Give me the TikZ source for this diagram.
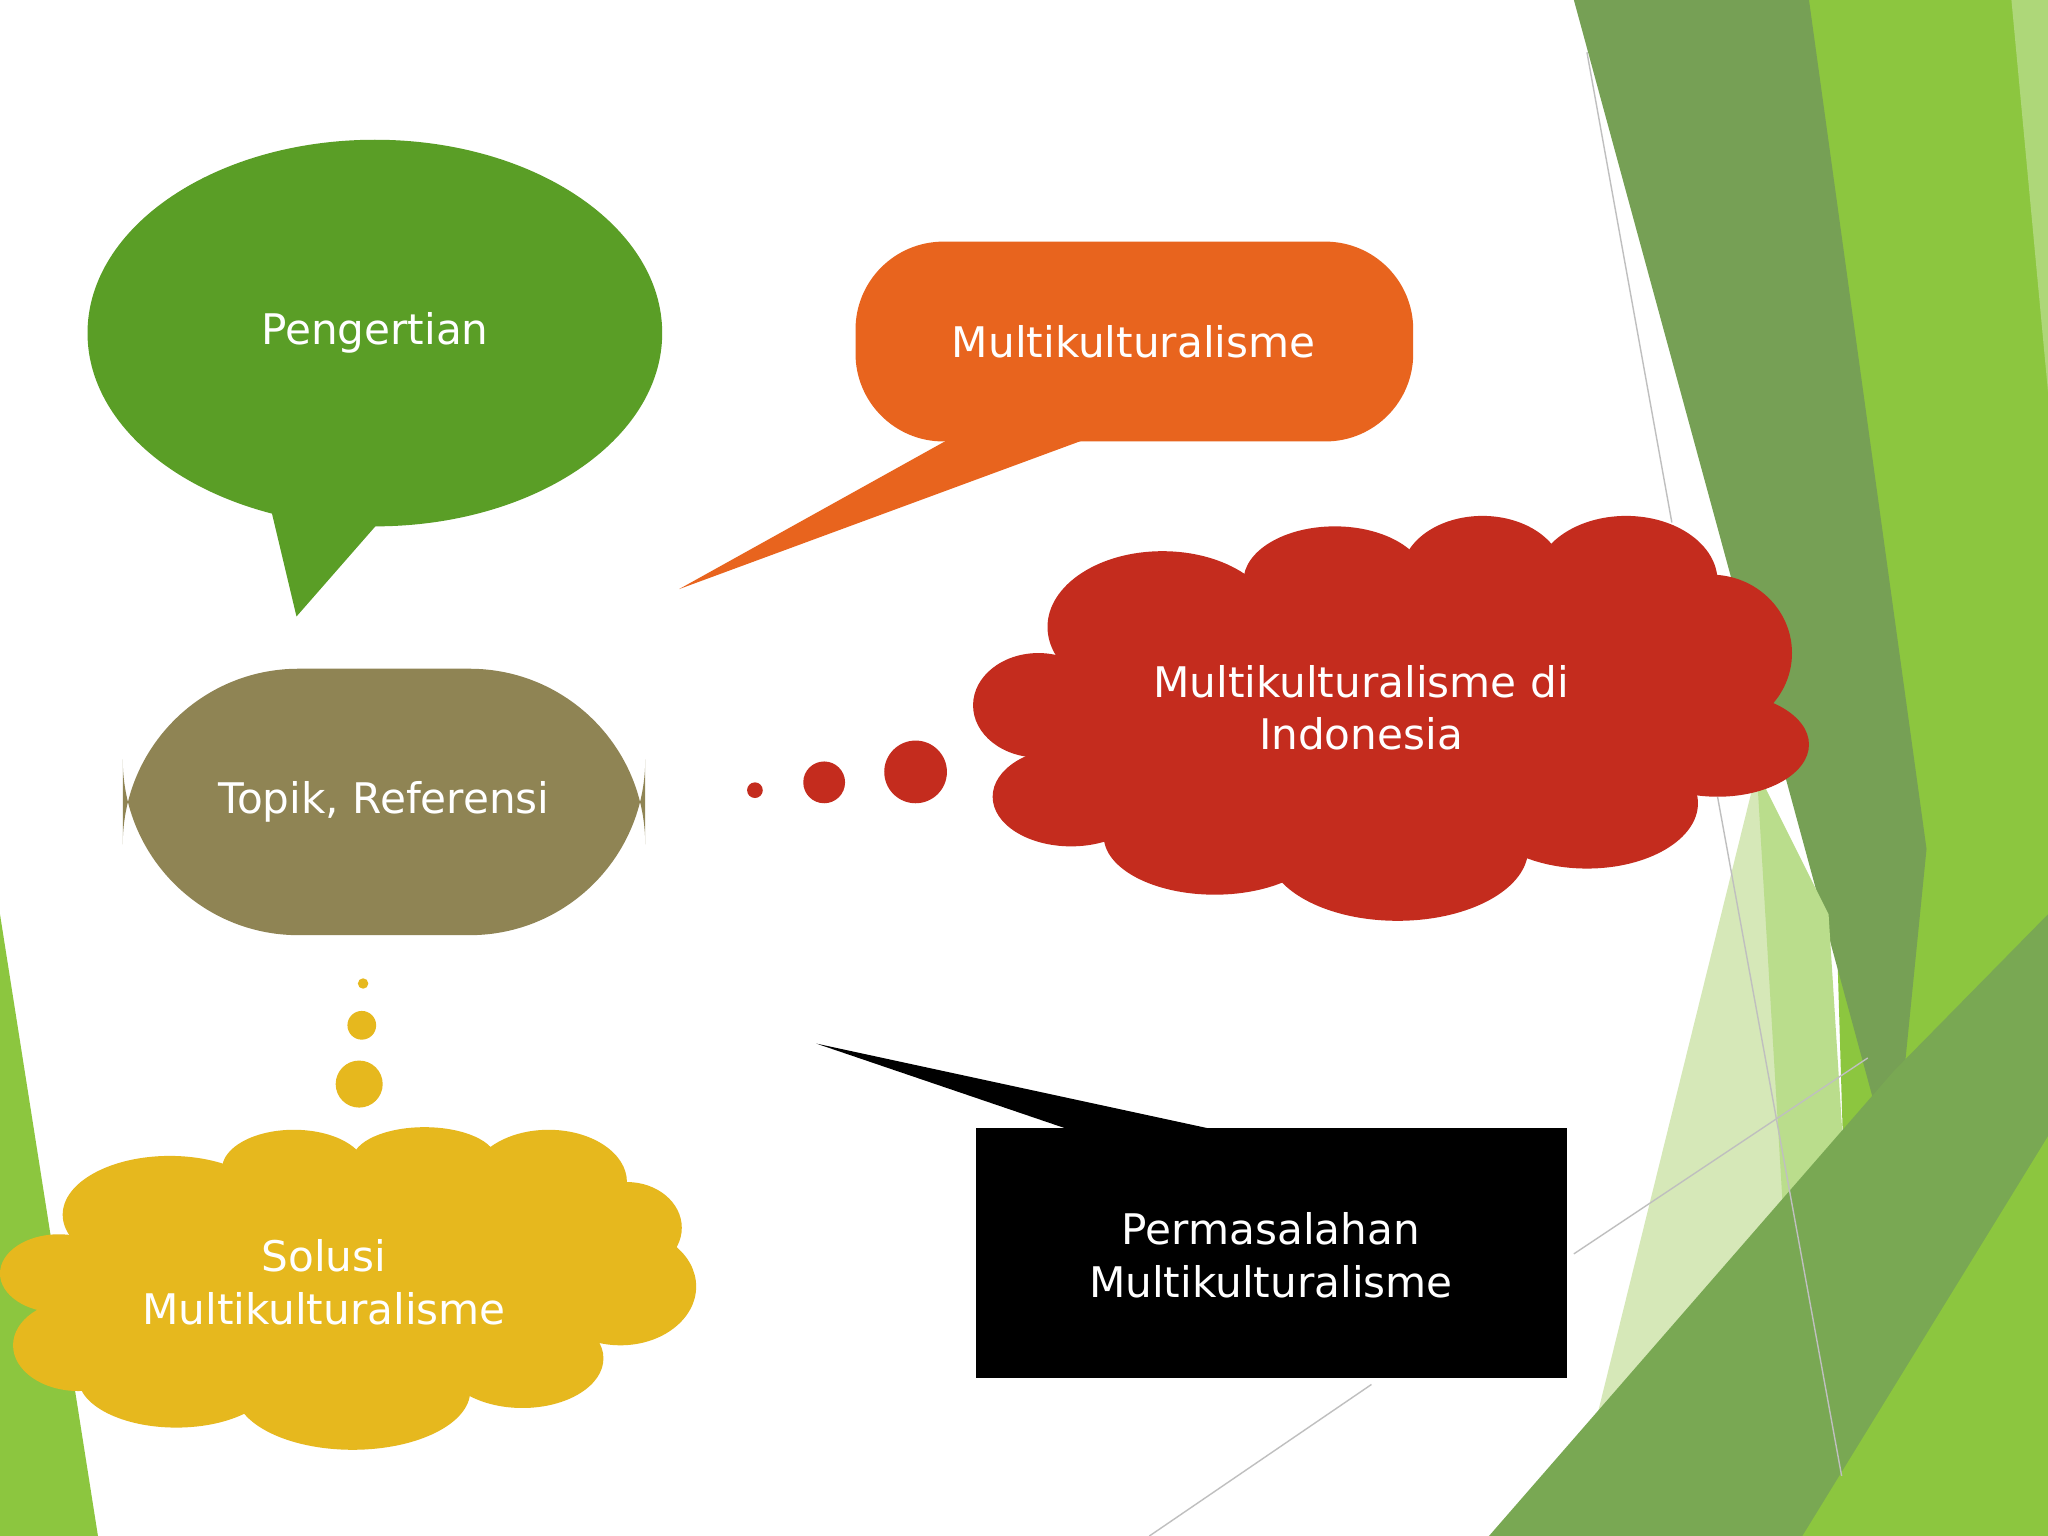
\documentclass[tikz,border=0pt]{standalone}
\usepackage{fontspec}
\setmainfont{DejaVu Sans}
\begin{document}
\begin{tikzpicture}[x=0.013061cm,y=-0.013061cm,
  lbl/.style={text=white,font=\fontsize{12}{15}\selectfont,align=center},
  gl/.style={gray!50,line width=0.4pt}]
\definecolor{cgreen}{HTML}{5A9E26}
\definecolor{corange}{HTML}{E8641E}
\definecolor{colive}{HTML}{8F8454}
\definecolor{cred}{HTML}{C42C1E}
\definecolor{cyellow}{HTML}{E6B81E}
\definecolor{dkg}{HTML}{76A055}
\definecolor{brg}{HTML}{8CC63F}
\definecolor{mdg}{HTML}{6A9E40}
\definecolor{plg}{HTML}{D6E8B8}
\useasboundingbox (0,0) rectangle (1568,1176);
\fill[white] (0,0) rectangle (1568,1176);
% background
\fill[brg] (1385,0) -- (1568,0) -- (1568,1176) -- (1420,1176) -- cycle;
\fill[brg!70!white] (1540,0) -- (1568,0) -- (1568,300) -- cycle;
\fill[dkg] (1205,0) -- (1385,0) -- (1475,650) -- (1450,900) -- cycle;
\fill[plg] (1345,590) -- (1430,1176) -- (1200,1176) -- cycle;
\fill[brg!60!white] (1345,590) -- (1400,700) -- (1430,1176) -- (1380,1176) -- cycle;
\fill[mdg!90!white] (1140,1176) -- (1450,820) -- (1568,700) -- (1568,1176) -- cycle;
\fill[brg] (1380,1176) -- (1568,870) -- (1568,1176) -- cycle;
\fill[brg] (0,700) -- (75,1176) -- (0,1176) -- cycle;
\draw[gl] (1215,40) -- (1280,400);
\draw[gl] (1315,610) -- (1410,1130);
\draw[gl] (1205,960) -- (1430,810);
\draw[gl] (880,1176) -- (1050,1060);
% green bubble
\fill[cgreen] (287,255) ellipse [x radius=220,y radius=148];
\fill[cgreen] (207,388) -- (227,472) -- (290,400) -- cycle;
\node[lbl] (pg) at (287,255) {Pengertian};
% orange
\fill[corange,rounded corners=25] (655,185) rectangle (1082,338);
\fill[corange] (727,336) -- (520,451) -- (832,336) -- cycle;
\node[lbl] (mk) at (868,262) {Multikulturalisme};
% olive
\fill[colive,rounded corners=50] (94,512) rectangle (494,716);
\node[lbl] (tr) at (294,614) {Topik, Referensi};
% red cloud
\begin{scope}[cred]
\fill (890,480) ellipse [x radius=88,y radius=58];
\fill (1022,445) ellipse [x radius=70,y radius=42];
\fill (1135,440) ellipse [x radius=62,y radius=45];
\fill (1245,445) ellipse [x radius=70,y radius=50];
\fill (1310,500) ellipse [x radius=62,y radius=60];
\fill (1315,570) ellipse [x radius=70,y radius=40];
\fill (1215,615) ellipse [x radius=85,y radius=50];
\fill (1070,650) ellipse [x radius=100,y radius=55];
\fill (930,640) ellipse [x radius=85,y radius=45];
\fill (820,610) ellipse [x radius=60,y radius=38];
\fill (795,540) ellipse [x radius=50,y radius=40];
\fill (1060,545) ellipse [x radius=250,y radius=110];
\fill (578,605) circle (6);
\fill (631,599) circle (16);
\fill (701,591) circle (24);
\end{scope}
\node[lbl] (mi) at (1042,542) {Multikulturalisme di\\Indonesia};
% yellow cloud
\begin{scope}[cyellow]
\fill (130,930) ellipse [x radius=82,y radius=45];
\fill (225,895) ellipse [x radius=55,y radius=30];
\fill (325,888) ellipse [x radius=55,y radius=25];
\fill (420,905) ellipse [x radius=60,y radius=40];
\fill (480,940) ellipse [x radius=42,y radius=35];
\fill (475,985) ellipse [x radius=58,y radius=45];
\fill (400,1040) ellipse [x radius=62,y radius=38];
\fill (270,1065) ellipse [x radius=90,y radius=45];
\fill (135,1055) ellipse [x radius=75,y radius=38];
\fill (60,1030) ellipse [x radius=50,y radius=35];
\fill (45,975) ellipse [x radius=45,y radius=30];
\fill (260,980) ellipse [x radius=220,y radius=90];
\fill (278,753) circle (4);
\fill (277,785) circle (11);
\fill (275,830) circle (18);
\end{scope}
\node[lbl] (sm) at (248,982) {Solusi\\Multikulturalisme};
% black
\fill[black] (747,864) rectangle (1200,1055);
\fill[black] (822,866) -- (625,799) -- (935,866) -- cycle;
\node[lbl] (pm) at (973,961) {Permasalahan\\Multikulturalisme};
\end{tikzpicture}
\end{document}
